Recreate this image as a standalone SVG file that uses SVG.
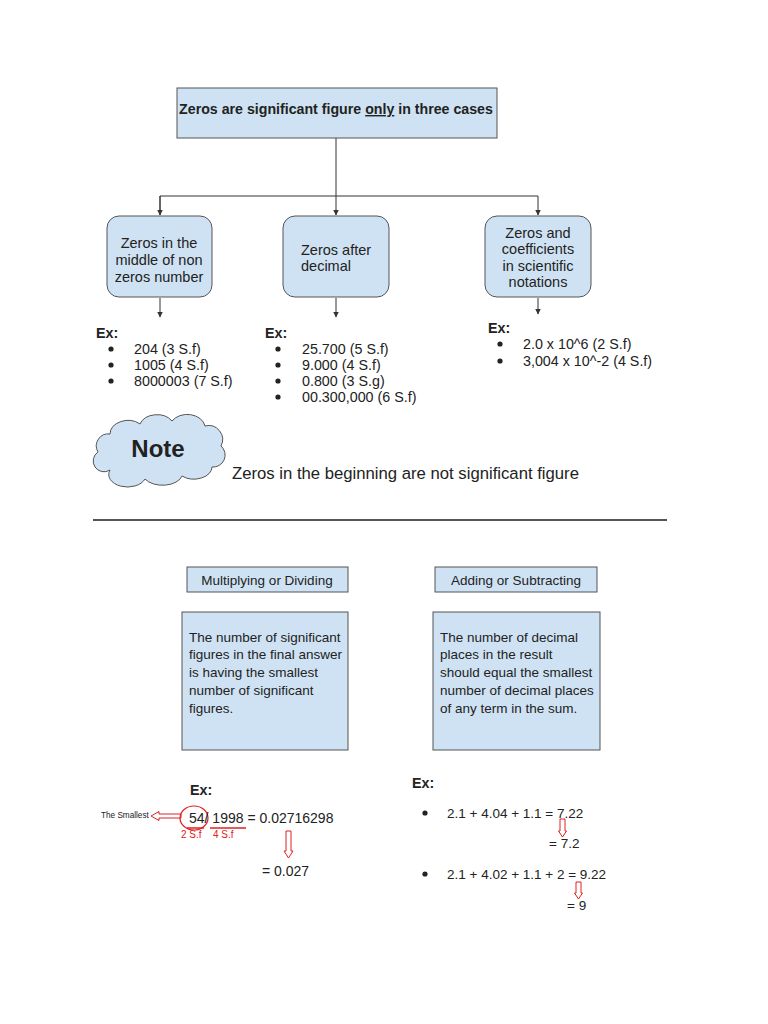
<svg xmlns="http://www.w3.org/2000/svg" width="768" height="1024" viewBox="0 0 768 1024">
<defs>
<style>
text{font-family:"Liberation Sans",Arial,sans-serif;fill:#222}
.box{fill:#cfe2f3;stroke:#555;stroke-width:1}
.ln{stroke:#333;stroke-width:1;fill:none}
.t14{font-size:14.3px}
.tc{font-size:14.5px}
.t13{font-size:13.5px}
.b{font-weight:bold}
.red{fill:#e02020}
.rh{fill:#fff;stroke:#e02020;stroke-width:1}
.dot{fill:#222}
</style>
<marker id="ah" viewBox="0 0 6 6" refX="5.5" refY="3" markerWidth="6" markerHeight="6" orient="auto" markerUnits="userSpaceOnUse">
<path d="M0,0 L6,3 L0,6 z" fill="#333"/>
</marker>
</defs>
<rect width="768" height="1024" fill="#fff"/>

<g id="connectors">
<line class="ln" x1="336" y1="138" x2="336" y2="215" marker-end="url(#ah)"/>
<polyline class="ln" points="160,215 160,196 538,196 538,215" marker-end="url(#ah)"/>
<line class="ln" x1="160" y1="196" x2="160" y2="215" marker-end="url(#ah)"/>
<line class="ln" x1="160" y1="298" x2="160" y2="317" marker-end="url(#ah)"/>
<line class="ln" x1="336" y1="298" x2="336" y2="317" marker-end="url(#ah)"/>
<line class="ln" x1="538" y1="298" x2="538" y2="314" marker-end="url(#ah)"/>
</g>

<g id="title">
<rect class="box" x="177" y="88" width="320" height="50"/>
<text class="b" font-size="14.2" x="336" y="114" text-anchor="middle">Zeros are significant figure <tspan text-decoration="underline">only</tspan> in three cases</text>
</g>

<g id="case1">
<rect class="box" x="107" y="216" width="105" height="81" rx="12"/>
<text class="tc" x="159" y="248" text-anchor="middle">Zeros in the</text>
<text class="tc" x="159" y="265" text-anchor="middle">middle of non</text>
<text class="tc" x="159" y="282" text-anchor="middle">zeros number</text>
</g>
<g id="case2">
<rect class="box" x="283" y="216" width="106" height="81" rx="12"/>
<text class="tc" x="301" y="255">Zeros after</text>
<text class="tc" x="301" y="271">decimal</text>
</g>
<g id="case3">
<rect class="box" x="485" y="216" width="106" height="81" rx="12"/>
<text class="tc" x="538" y="238" text-anchor="middle">Zeros and</text>
<text class="tc" x="538" y="254" text-anchor="middle">coefficients</text>
<text class="tc" x="538" y="271" text-anchor="middle">in scientific</text>
<text class="tc" x="538" y="287" text-anchor="middle">notations</text>
</g>

<g id="ex1">
<text class="t14 b" x="96" y="338">Ex:</text>
<circle class="dot" cx="111" cy="349" r="2.6"/>
<circle class="dot" cx="111" cy="365" r="2.6"/>
<circle class="dot" cx="111" cy="381" r="2.6"/>
<text class="t14" x="134" y="354">204 (3 S.f)</text>
<text class="t14" x="134" y="370">1005 (4 S.f)</text>
<text class="t14" x="134" y="386">8000003 (7 S.f)</text>
</g>
<g id="ex2">
<text class="t14 b" x="265" y="338">Ex:</text>
<circle class="dot" cx="278" cy="349" r="2.6"/>
<circle class="dot" cx="278" cy="365" r="2.6"/>
<circle class="dot" cx="278" cy="381" r="2.6"/>
<circle class="dot" cx="278" cy="397" r="2.6"/>
<text class="t14" x="302" y="354">25.700 (5 S.f)</text>
<text class="t14" x="302" y="370">9.000 (4 S.f)</text>
<text class="t14" x="302" y="386">0.800 (3 S.g)</text>
<text class="t14" x="302" y="402">00.300,000 (6 S.f)</text>
</g>
<g id="ex3">
<text class="t14 b" x="488" y="333">Ex:</text>
<circle class="dot" cx="500" cy="344" r="2.6"/>
<circle class="dot" cx="500" cy="361" r="2.6"/>
<text class="t14" x="523" y="349">2.0 x 10^6 (2 S.f)</text>
<text class="t14" x="523" y="366">3,004 x 10^-2 (4 S.f)</text>
</g>

<g id="note">
<path class="box" d="M98,452 A12,12 0 0 1 110,434 A18,14 0 0 1 140,424 A18,14 0 0 1 172,421 A18,14 0 0 1 205,426 A14,14 0 0 1 221,446 A12,12 0 0 1 212,467 A18,12 0 0 1 182,476 A20,12 0 0 1 145,479 A18,12 0 0 1 110,470 A10,10 0 0 1 98,452 Z"/>
<text class="b" x="158" y="457" font-size="24" text-anchor="middle" fill="#111">Note</text>
<text x="232" y="479" font-size="16.7">Zeros in the beginning are not significant figure</text>
</g>

<line x1="93" y1="520" x2="667" y2="520" stroke="#555" stroke-width="2"/>

<g id="mul-head">
<rect class="box" x="187" y="567" width="161" height="25"/>
<text class="t13" x="267" y="585" text-anchor="middle">Multiplying or Dividing</text>
</g>
<g id="add-head">
<rect class="box" x="435" y="567" width="162" height="25"/>
<text class="t13" x="516" y="585" text-anchor="middle">Adding or Subtracting</text>
</g>
<g id="mul-rule">
<rect class="box" x="182" y="612" width="166" height="138"/>
<text class="t13" x="189" y="642">The number of significant</text>
<text class="t13" x="189" y="659">figures in the final answer</text>
<text class="t13" x="189" y="677">is having the smallest</text>
<text class="t13" x="189" y="695">number of significant</text>
<text class="t13" x="189" y="713">figures.</text>
</g>
<g id="add-rule">
<rect class="box" x="433" y="612" width="167" height="138"/>
<text class="t13" x="440" y="642">The number of decimal</text>
<text class="t13" x="440" y="659">places in the result</text>
<text class="t13" x="440" y="677">should equal the smallest</text>
<text class="t13" x="440" y="695">number of decimal places</text>
<text class="t13" x="440" y="713">of any term in the sum.</text>
</g>

<g id="mul-ex">
<text class="t14 b" x="190" y="795">Ex:</text>
<text x="101" y="818" font-size="8.2">The Smallest</text>
<polygon class="rh" points="181,814 159,814 159,811.5 151,816 159,820.5 159,818 181,818"/>
<ellipse cx="194" cy="818" rx="14" ry="12" fill="none" stroke="#e02020" stroke-width="1.2"/>
<text x="189" y="823" font-size="14">54/ 1998 = 0.02716298</text>
<line x1="187" y1="828" x2="204" y2="828" stroke="#e02020" stroke-width="1.5"/>
<line x1="210" y1="828" x2="246" y2="828" stroke="#e02020" stroke-width="1.5"/>
<text class="red" x="181" y="838" font-size="10">2 S.f</text>
<text class="red" x="213" y="838" font-size="10">4 S.f</text>
<polygon class="rh" points="286,831 286,851 284,851 288.5,858 293,851 291,851 291,831"/>
<text x="262" y="876" font-size="14">= 0.027</text>
</g>

<g id="add-ex">
<text class="t14 b" x="412" y="788">Ex:</text>
<circle class="dot" cx="425" cy="813" r="2.6"/>
<text x="447" y="818" font-size="13.5">2.1 + 4.04 + 1.1 = 7.22</text>
<polygon class="rh" points="560,819 560,831 558.5,831 562.5,837 566.5,831 565,831 565,819"/>
<text x="549" y="848" font-size="13.5">= 7.2</text>
<circle class="dot" cx="425" cy="874" r="2.6"/>
<text x="447" y="879" font-size="13.5">2.1 + 4.02 + 1.1 + 2 = 9.22</text>
<polygon class="rh" points="576,882 576,893 574.5,893 578.5,899 582.5,893 581,893 581,882"/>
<text x="567" y="910" font-size="13.5">= 9</text>
</g>
</svg>
